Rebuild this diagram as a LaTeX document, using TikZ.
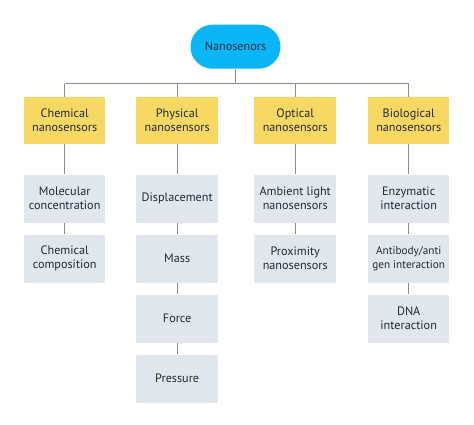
\documentclass[tikz,border=0pt]{standalone}
\usepackage{fontspec}
\setmainfont{PT Sans}
\definecolor{rootc}{HTML}{0AB6F6}
\definecolor{catc}{HTML}{F7D862}
\definecolor{leafc}{HTML}{E2E7ED}
\definecolor{linec}{HTML}{8A8A8A}
\definecolor{textc}{HTML}{1F2B3A}
\begin{document}
\begin{tikzpicture}[x=1pt,y=-1pt,
  every node/.style={font=\fontsize{12.2}{14.3}\selectfont, text=textc, align=center, inner sep=0pt},
  rootbox/.style={fill=rootc, rounded corners=22pt, minimum width=90pt, minimum height=44pt},
  catbox/.style={fill=catc, minimum width=81.5pt, minimum height=47.5pt},
  leafbox/.style={fill=leafc, minimum width=81.5pt, minimum height=48pt},
  conn/.style={draw=linec, line width=1pt}]
\useasboundingbox (0,0) rectangle (474,424);
\fill[white] (0,0) rectangle (474,424);
\coordinate (bus) at (235.5,83.5);
\coordinate (busL) at (64.7,83.5);
\coordinate (busR) at (408.7,83.5);
\node[rootbox] (root) at (235.5,46.7) {Nanosenors};
\node[catbox] (c1) at (64.7,120.5) {Chemical\\nanosensors};
\node[catbox] (c2) at (177.2,120.5) {Physical\\nanosensors};
\node[catbox] (c3) at (295.2,120.5) {Optical\\nanosensors};
\node[catbox] (c4) at (408.7,120.5) {Biological\\nanosensors};
\node[leafbox] (a1) at (64.7,198.5) {Molecular\\concentration};
\node[leafbox] (a2) at (64.7,258.5) {Chemical\\composition};
\node[leafbox] (b1) at (177.2,198.5) {Displacement};
\node[leafbox] (b2) at (177.2,258.5) {Mass};
\node[leafbox] (b3) at (177.2,318.5) {Force};
\node[leafbox] (b4) at (177.2,378.5) {Pressure};
\node[leafbox] (o1) at (295.2,198.5) {Ambient light\\nanosensors};
\node[leafbox] (o2) at (295.2,258.5) {Proximity\\nanosensors};
\node[leafbox] (d1) at (408.7,198.5) {Enzymatic\\interaction};
\node[leafbox, font=\fontsize{11.2}{14.3}\selectfont] (d2) at (408.7,258.5) {Antibody/anti\\gen interaction};
\node[leafbox] (d3) at (408.7,318.5) {DNA\\interaction};
\draw[conn] (root.south) -- (bus);
\draw[conn] (busL) -- (busR);
\draw[conn] (busL) -- (c1.north);
\draw[conn] (c2.north |- bus) -- (c2.north);
\draw[conn] (c3.north |- bus) -- (c3.north);
\draw[conn] (busR) -- (c4.north);
\draw[conn] (c1) -- (a1) (a1) -- (a2);
\draw[conn] (c2) -- (b1) (b1) -- (b2) (b2) -- (b3) (b3) -- (b4);
\draw[conn] (c3) -- (o1) (o1) -- (o2);
\draw[conn] (c4) -- (d1) (d1) -- (d2) (d2) -- (d3);
\end{tikzpicture}
\end{document}
